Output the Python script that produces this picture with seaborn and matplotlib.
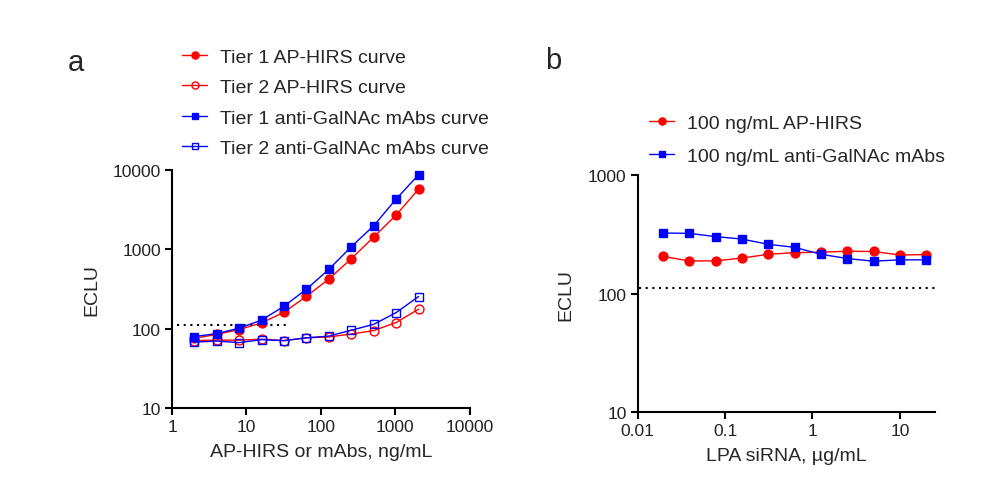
import numpy as np
import pandas as pd
import matplotlib
matplotlib.use('Agg')
import matplotlib.pyplot as plt
import matplotlib.ticker as mticker
import seaborn as sns

sns.set_style('ticks')
plt.rcParams['font.family'] = ['Liberation Sans', 'DejaVu Sans']

# ------------------------------------------------------------
# Data
# ------------------------------------------------------------
# panel a: concentration series, ng/mL
conc_a = [2, 4, 8, 16, 32, 64, 128, 256, 512, 1024, 2048]
tier1_hirs = [76, 85, 98, 119, 162, 257, 425, 766, 1436, 2717, 5780]
tier2_hirs = [71, 72, 72, 74, 71, 77, 79, 86, 95, 120, 177]
tier1_mabs = [80, 87, 102, 129, 193, 316, 563, 1084, 1995, 4325, 8750]
tier2_mabs = [68, 70, 67, 73, 71, 77, 81, 96, 114, 160, 255]
cutoff_a = 112
cutoff_a_span = (1.15, 38)

# panel b: LPA siRNA, ug/mL
conc_b = [0.0195, 0.039, 0.078, 0.156, 0.3125, 0.625, 1.25, 2.5, 5, 10, 20]
hirs_100 = [206, 189, 189, 200, 215, 222, 224, 228, 227, 212, 214]
mabs_100 = [325, 323, 303, 289, 261, 246, 215, 198, 188, 193, 193]
cutoff_b = 111
cutoff_b_span = (0.0102, 27)

RED = '#ff0000'
BLUE = '#0000ff'

fig = plt.figure(figsize=(10.06, 5.02), dpi=100)
ax_a = fig.add_axes([0.171, 0.185, 0.296, 0.474])
ax_b = fig.add_axes([0.634, 0.177, 0.295, 0.472])


def draw(ax, x, y, color, marker, filled, label):
    sns.lineplot(x=x, y=y, ax=ax, color=color, marker=marker, label=label,
                 linewidth=1.0, markersize=6.4 if marker == 'o' else 6.0,
                 markeredgecolor=color, markeredgewidth=1.0,
                 markerfacecolor=color if filled else 'none',
                 legend=True, zorder=3)


# ------------------------------------------------------------
# Panel a
# ------------------------------------------------------------
draw(ax_a, conc_a, tier1_hirs, RED, 'o', True, 'Tier 1 AP-HIRS curve')
draw(ax_a, conc_a, tier2_hirs, RED, 'o', False, 'Tier 2 AP-HIRS curve')
draw(ax_a, conc_a, tier1_mabs, BLUE, 's', True, 'Tier 1 anti-GalNAc mAbs curve')
draw(ax_a, conc_a, tier2_mabs, BLUE, 's', False, 'Tier 2 anti-GalNAc mAbs curve')
ax_a.hlines(cutoff_a, *cutoff_a_span, colors='black', linestyles=(0, (1, 2.2)),
            linewidth=1.5, zorder=2)

ax_a.set_xscale('log')
ax_a.set_yscale('log')
ax_a.set_xlim(1, 10000)
ax_a.set_ylim(10, 10000)
ax_a.set_xticks([1, 10, 100, 1000, 10000], ['1', '10', '100', '1000', '10000'])
ax_a.set_yticks([10, 100, 1000, 10000], ['10', '100', '1000', '10000'])
ax_a.set_xlabel('AP-HIRS or mAbs, ng/mL', fontsize=14, labelpad=6)
ax_a.set_ylabel('ECLU', fontsize=14, labelpad=9)

# ------------------------------------------------------------
# Panel b
# ------------------------------------------------------------
draw(ax_b, conc_b, hirs_100, RED, 'o', True, '100 ng/mL AP-HIRS')
draw(ax_b, conc_b, mabs_100, BLUE, 's', True, '100 ng/mL anti-GalNAc mAbs')
ax_b.hlines(cutoff_b, *cutoff_b_span, colors='black', linestyles=(0, (1, 2.2)),
            linewidth=1.5, zorder=2, clip_on=False)

ax_b.set_xscale('log')
ax_b.set_yscale('log')
ax_b.set_xlim(0.01, 25)
ax_b.set_ylim(10, 1000)
ax_b.set_xticks([0.01, 0.1, 1, 10], ['0.01', '0.1', '1', '10'])
ax_b.set_yticks([10, 100, 1000], ['10', '100', '1000'])
ax_b.set_xlabel('LPA siRNA, µg/mL', fontsize=14, labelpad=6)
ax_b.set_ylabel('ECLU', fontsize=14, labelpad=10)

for ax in (ax_a, ax_b):
    ax.xaxis.set_minor_locator(mticker.NullLocator())
    ax.yaxis.set_minor_locator(mticker.NullLocator())
    ax.tick_params(axis='both', which='major', labelsize=12.5, length=5,
                   width=1.5, color='black', labelcolor='#222222', pad=3)
    for side in ('left', 'bottom'):
        ax.spines[side].set_linewidth(1.5)
        ax.spines[side].set_color('black')
    sns.despine(ax=ax)
    ax.get_legend().remove()

# legends above each panel
h, l = ax_a.get_legend_handles_labels()
fig.legend(h, l, loc='upper left', bbox_to_anchor=(0.181, 0.902),
           frameon=False, fontsize=14, handlelength=1.3, handletextpad=0.65,
           labelspacing=0.66, borderpad=0, borderaxespad=0, markerscale=0.8)
h, l = ax_b.get_legend_handles_labels()
fig.legend(h, l, loc='upper left', bbox_to_anchor=(0.645, 0.770),
           frameon=False, fontsize=14, handlelength=1.3, handletextpad=0.65,
           labelspacing=0.8, borderpad=0, borderaxespad=0, markerscale=0.8)

# panel letters
fig.text(0.075, 0.874, 'a', fontsize=21, ha='center', va='center')
fig.text(0.550, 0.878, 'b', fontsize=21, ha='center', va='center')

fig.savefig('out.png', dpi=100)
